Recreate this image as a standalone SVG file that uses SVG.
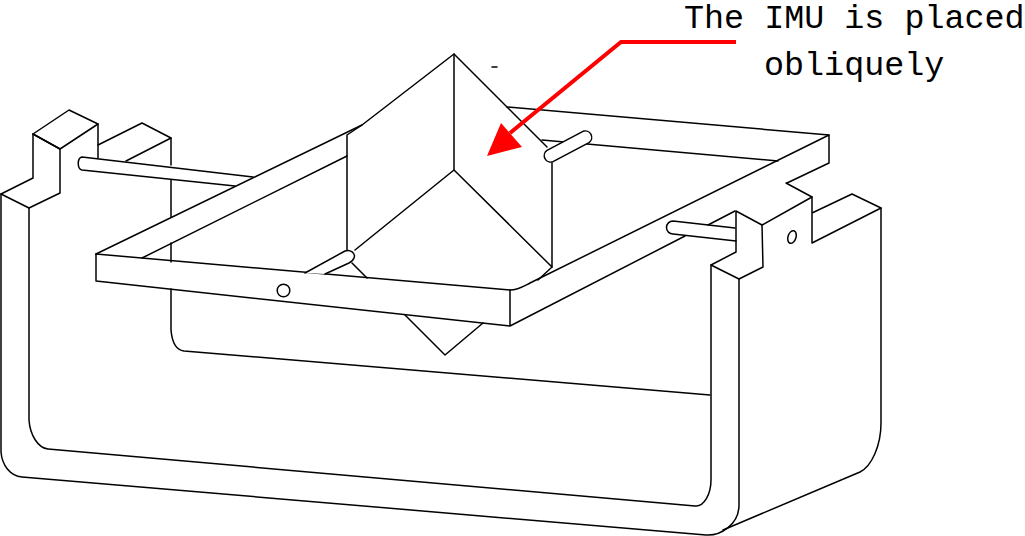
<svg xmlns="http://www.w3.org/2000/svg" width="1025" height="536" viewBox="0 0 1025 536">
<style>
.l{fill:none;stroke:#000;stroke-width:1.5;stroke-linejoin:round;stroke-linecap:round}
.r{fill:#fff;stroke:#000;stroke-width:1.5;stroke-linejoin:round;stroke-linecap:round}
.t{font-family:"Liberation Mono",monospace;font-size:33.4px;fill:#000}
</style>
<g id="tray">
<path class="l" d="M1 194V452C2 465 10 476 22 477L706 535C720 536 739 525 739 505V279"/>
<path class="l" d="M29 208V420C30 435 38 448 48 449L695 506C704 507 711 494 711 480V265"/>
<path class="l" d="M1 194L29 208L60 193V149L33 134L69 110L98 124V158"/>
<path class="l" d="M33 134L60 149L98 124"/>
<path class="l" d="M33 134V178L1 194"/>
<path class="l" d="M98 145L142 123L171 138V165M171 180V217M171 243V262M171 289V330C172 342 176 350 184 351L710 395"/>
<path class="l" d="M126 161L171 138"/>
<path class="l" d="M711 265L736 252V211L762 225L763 267L739 279L711 265"/>
<path class="l" d="M762 225L812 197L786 183"/>
<path class="l" d="M812 197V243L881 208L852 194L812 213"/>
<path class="l" d="M881 208V423C881 445 872 466 860 472L723 530"/>
<ellipse class="l" cx="792" cy="237" rx="4" ry="6.500" transform="rotate(18 792 237)"/>
</g>
<g id="imu">
<path class="l" d="M362 125L454 54L547 147M552 163V267L454 170L355 250M347 135V250M347 135L362 125"/>
<path class="l" d="M454 54V170"/>
<path class="l" d="M352 263L367 278M552 267L538 280"/>
<path class="l" d="M405 315L445 355L483 323"/>
</g>
<g id="frame">
<path class="l" d="M96 254L362 125M142 258L347 156"/>
<path class="l" d="M96 254V281L510 326V290C518 290 524 286 530 283L829 135V163L787 183M735 211L708 225M685 236L510 326"/>
<path class="l" d="M96 254L510 290"/>
<path class="l" d="M507 107L829 135M542 140L778 161"/>
<circle class="l" cx="283.500" cy="290.500" r="6.300"/>
</g>
<g id="rods">
<path class="l" d="M253 177L82 157C77 158 77 169 82 170L235 186"/>
<path class="r" d="M305 273L345 251C350 249 356 253 354 258C353 261 351 262 349 263L325 274"/>
<path class="r" d="M547 150.300L583 131.300A6.500 6.500 0 0 1 589 142.700L553 161.700A6.500 6.500 0 0 1 547 150.300Z"/>
<path class="l" d="M735 228L673 221A6.500 6.500 0 0 0 673 234L736 241"/>
</g>
<g id="connectors">
<path d="M736 42H621L510 133" fill="none" stroke="#f00" stroke-width="4"/>
<polygon points="487,156 501,123 522,147" fill="#f00"/>
</g>
<path class="l" d="M492 67H497"/>
<g id="label">
<text class="t" x="684" y="28">The IMU is placed</text>
<text class="t" x="764" y="75">obliquely</text>
</g>
</svg>
